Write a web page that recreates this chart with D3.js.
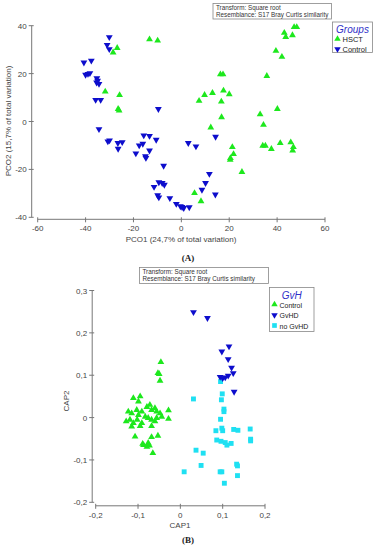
<!DOCTYPE html>
<html>
<head>
<meta charset="utf-8">
<script src="https://cdn.jsdelivr.net/npm/d3@7"></script>
<style>
  body { margin: 0; background: #fff; }
  svg { display: block; font-family: 'Liberation Sans', Arial, sans-serif; }
</style>
</head>
<body>
<svg id="fig" width="377" height="550"></svg>
<script>
// ---- panel A data (PCO1, PCO2) ----
var hsctA = [
  [-26.8, 30.7], [-28.5, 28.8], [-13.3, 34.3], [-9.9, 33.8], [-31.8, 12.5], [-25.8, 11], [-26.4, 5.2], [-26, 4.6],
  [16.3, 19.7], [17.4, 19.7], [9.7, 11.1], [13, 11.9], [17.6, 12.9], [20, 11.4], [7.4, 8.6], [16.7, 8.3],
  [16.8, 1.8], [12.3, -2.5], [32.9, 3], [34.3, -1.4], [40.1, 5.2], [35.7, 19], [39.5, 29.5], [42, 27],
  [43, 37], [43.6, 35.3], [46.4, 36], [47.1, 39.4], [48.2, 39.4],
  [21.3, -10.7], [21.8, -13.6], [20.5, -15.3], [20.4, -16], [25.3, -21.1], [34, -10.1], [35.1, -10.1],
  [37.6, -11.5], [41.3, -9], [45.7, -8.7], [46.8, -10.7], [46.5, -12.1], [5.5, -29.9], [8.2, -33.3]
];
var controlA = [
  [-30.1, 35.2], [-31, 32], [-30.1, 30.2], [-40.7, 24.6], [-37.6, 25.4], [-40, 19.5], [-39, 19.9], [-38.2, 20.2],
  [-35.3, 18.1], [-35.4, 16.3], [-34.4, 15.7], [-35, 17], [-35.8, 9], [-33.7, 9], [-34.4, -3.2], [-9.6, 5.2],
  [-30.7, -8.3], [-30, -7.9], [-26.5, -9], [-24.7, -8.6], [-26.4, -11.4], [-15.7, -5.8], [-13.3, -6], [-10.5, -7.6],
  [-17.6, -10], [-16.1, -9.3], [-19, -13.3], [-13.3, -12.1], [-15, -14.5], [-14.8, -15.2], [-7.4, -18.5],
  [-9.4, -25.4], [-8, -25.7], [-7.1, -26.4], [-11.4, -27.3], [-9.9, -30.8], [-9.4, -31.7], [-4.8, -32],
  [-2.1, -34.4], [-0.4, -35.4], [0.3, -35.7], [1, -36.1], [3.3, -35.8], [2.9, -9], [6.1, -10.4], [14.3, -6.4],
  [11.7, -21.9], [10.1, -25.7], [8.6, -28.5], [14.2, -30.5]
];
var ticksXA = [-60, -40, -20, 0, 20, 40, 60];
var ticksYA = [-40, -20, 0, 20, 40];

// ---- panel B data (CAP1, CAP2) ----
var controlB = [
  [-0.046, 0.131], [-0.053, 0.105], [-0.05, 0.103], [-0.048, 0.087], [-0.111, 0.046], [-0.095, 0.05], [-0.099, 0.038],
  [-0.123, 0.014], [-0.115, 0.01], [-0.103, 0.018], [-0.099, 0.006], [-0.091, 0.014], [-0.079, 0.025], [-0.072, 0.03],
  [-0.068, 0.018], [-0.06, 0.022], [-0.056, 0.014], [-0.048, 0.01], [-0.028, 0.017], [-0.028, -0.003],
  [-0.128, -0.009], [-0.119, -0.005], [-0.111, -0.013], [-0.102, -0.005], [-0.091, -0.013], [-0.083, 0.002],
  [-0.076, -0.001], [-0.068, -0.005], [-0.06, -0.009], [-0.056, -0.001], [-0.044, 0.002], [-0.115, -0.021],
  [-0.095, -0.02], [-0.068, -0.02], [-0.107, -0.045], [-0.087, -0.065], [-0.068, -0.046], [-0.053, -0.043],
  [-0.079, -0.069], [-0.089, -0.062], [-0.076, -0.06], [-0.073, -0.066], [-0.065, -0.084]
];
var gvhdB = [
  [0.031, 0.249], [0.064, 0.235], [0.115, 0.168], [0.098, 0.156], [0.113, 0.138], [0.121, 0.118], [0.125, 0.105],
  [0.113, 0.099], [0.106, 0.095], [0.094, 0.096], [0.1, 0.093], [0.127, 0.061]
];
var noGvhdB = [
  [0.095, 0.085], [0.031, 0.044], [0.099, 0.056], [0.097, 0.042], [0.103, 0.02], [0.103, 0.014], [0.095, -0.004],
  [0.084, -0.031], [0.098, -0.025], [0.1, -0.031], [0.126, -0.028], [0.136, -0.03], [0.165, -0.027], [0.166, -0.051],
  [0.086, -0.053], [0.096, -0.056], [0.106, -0.059], [0.12, -0.061], [0.11, -0.065], [0.166, -0.055], [0.037, -0.077],
  [0.054, -0.084], [0.009, -0.128], [0.049, -0.113], [0.094, -0.128], [0.098, -0.128], [0.133, -0.11],
  [0.135, -0.114], [0.135, -0.137], [0.104, -0.155]
];
var ticksXB = [-0.2, -0.1, 0, 0.1, 0.2];
var ticksYB = [-0.2, -0.1, 0, 0.1, 0.2, 0.3];

var infoLines = ['Transform: Square root', 'Resemblance: S17 Bray Curtis similarity'];

var GREEN = '#1de81d', BLUE = '#0d0dcc', CYAN = '#1fe0f2', AXIS = '#777', TXT = '#444';

var svg = d3.select('#fig');

var symUp = d3.symbol().type(d3.symbolTriangle).size(20);
var symSq = d3.symbol().type(d3.symbolSquare).size(24);

function fmtTick(d) {
  return String(Math.round(d * 10) / 10).replace('.', ',');
}

function drawMarks(g, pts, x, y, kind, color) {
  g.selectAll(null).data(pts).enter().append('path')
    .attr('d', kind === 'sq' ? symSq : symUp)
    .attr('transform', function(d) {
      return 'translate(' + x(d[0]) + ',' + y(d[1]) + ')' + (kind === 'down' ? ' rotate(180)' : '');
    })
    .attr('fill', color);
}

function drawAxes(g, x, y, tx, ty, xOff, yOff) {
  var x0 = x.range()[0] - xOff, yb = y.range()[0] + yOff;
  // y axis
  g.append('line').attr('x1', x0).attr('x2', x0)
    .attr('y1', y(ty[ty.length - 1])).attr('y2', y(ty[0]))
    .attr('stroke', AXIS).attr('stroke-width', 1);
  ty.forEach(function(t) {
    g.append('line').attr('x1', x0 - 3).attr('x2', x0 + 2).attr('y1', y(t)).attr('y2', y(t))
      .attr('stroke', AXIS);
    g.append('text').attr('x', x0 - 5).attr('y', y(t) + 3).attr('text-anchor', 'end')
      .attr('font-size', 8).attr('fill', TXT).text(fmtTick(t));
  });
  // x axis
  g.append('line').attr('y1', yb).attr('y2', yb)
    .attr('x1', x(tx[0])).attr('x2', x(tx[tx.length - 1]))
    .attr('stroke', AXIS).attr('stroke-width', 1);
  tx.forEach(function(t) {
    g.append('line').attr('y1', yb - 2).attr('y2', yb + 3).attr('x1', x(t)).attr('x2', x(t))
      .attr('stroke', AXIS);
    g.append('text').attr('x', x(t)).attr('y', yb + 12).attr('text-anchor', 'middle')
      .attr('font-size', 8).attr('fill', TXT).text(fmtTick(t));
  });
}

function infoBox(g, bx, by, bw, bh) {
  g.append('rect').attr('x', bx).attr('y', by).attr('width', bw).attr('height', bh)
    .attr('fill', '#fff').attr('stroke', '#888').attr('stroke-width', 0.8);
  infoLines.forEach(function(s, i) {
    g.append('text').attr('x', bx + 3).attr('y', by + 6.5 + i * 7.3)
      .attr('font-size', 6.3).attr('fill', '#333').text(s);
  });
}

function legend(g, bx, by, bw, bh, title, items, rowH, fs) {
  g.append('rect').attr('x', bx).attr('y', by).attr('width', bw).attr('height', bh)
    .attr('fill', '#fff').attr('stroke', '#888').attr('stroke-width', 0.8);
  g.append('text').attr('x', bx + bw / 2).attr('y', by + 11).attr('text-anchor', 'middle')
    .attr('font-size', 10).attr('font-style', 'italic').attr('fill', '#3030c8').text(title);
  items.forEach(function(it, i) {
    var cy = by + 17 + i * rowH;
    var p = g.append('path').attr('fill', it.color)
      .attr('d', it.kind === 'sq' ? d3.symbol().type(d3.symbolSquare).size(22)() : d3.symbol().type(d3.symbolTriangle).size(18)())
      .attr('transform', 'translate(' + (bx + 5) + ',' + cy + ')' + (it.kind === 'down' ? ' rotate(180)' : ''));
    g.append('text').attr('x', bx + 10).attr('y', cy + 3).attr('font-size', fs)
      .attr('fill', '#222').text(it.label);
  });
}

// ===== Panel A =====
var gA = svg.append('g');
var xA = d3.scaleLinear().domain([-60, 60]).range([37.7, 325]);
var yA = d3.scaleLinear().domain([-40, 40]).range([217.3, 25.7]);
drawAxes(gA, xA, yA, ticksXA, ticksYA, 6, 2);
drawMarks(gA, controlA, xA, yA, 'down', BLUE);
drawMarks(gA, hsctA, xA, yA, 'up', GREEN);
gA.append('text').attr('x', 181).attr('y', 242).attr('text-anchor', 'middle')
  .attr('font-size', 8).attr('fill', TXT).text('PCO1 (24,7% of total variation)');
gA.append('text').attr('transform', 'translate(11,121) rotate(-90)').attr('text-anchor', 'middle')
  .attr('font-size', 8).attr('fill', TXT).text('PCO2 (15,7% of total variation)');
infoBox(gA, 213, 3.5, 118.5, 15.5);
legend(gA, 332.5, 22, 40, 30.5, 'Groups',
  [{ label: 'HSCT', kind: 'up', color: GREEN }, { label: 'Control', kind: 'down', color: BLUE }], 10, 7.5);
gA.append('text').attr('x', 188).attr('y', 261).attr('text-anchor', 'middle')
  .attr('font-family', "'Liberation Serif', serif").attr('font-weight', 'bold')
  .attr('font-size', 9).attr('fill', '#222').text('(A)');

// ===== Panel B =====
var gB = svg.append('g');
var xB = d3.scaleLinear().domain([-0.2, 0.2]).range([95.7, 265]);
var yB = d3.scaleLinear().domain([-0.2, 0.3]).range([502.3, 290.5]);
drawAxes(gB, xB, yB, ticksXB, ticksYB, 3.5, 3.5);
drawMarks(gB, noGvhdB, xB, yB, 'sq', CYAN);
drawMarks(gB, gvhdB, xB, yB, 'down', BLUE);
drawMarks(gB, controlB, xB, yB, 'up', GREEN);
gB.append('text').attr('x', 180).attr('y', 528).attr('text-anchor', 'middle')
  .attr('font-size', 8).attr('fill', TXT).text('CAP1');
gB.append('text').attr('transform', 'translate(69,401) rotate(-90)').attr('text-anchor', 'middle')
  .attr('font-size', 8).attr('fill', TXT).text('CAP2');
infoBox(gB, 139.5, 267.5, 129, 16);
legend(gB, 269.5, 287.5, 44.5, 44, 'GvH',
  [{ label: 'Control', kind: 'up', color: GREEN }, { label: 'GvHD', kind: 'down', color: BLUE },
   { label: 'no GvHD', kind: 'sq', color: CYAN }], 10.5, 7);
gB.append('text').attr('x', 188).attr('y', 543).attr('text-anchor', 'middle')
  .attr('font-family', "'Liberation Serif', serif").attr('font-weight', 'bold')
  .attr('font-size', 9).attr('fill', '#222').text('(B)');
</script>
</body>
</html>
